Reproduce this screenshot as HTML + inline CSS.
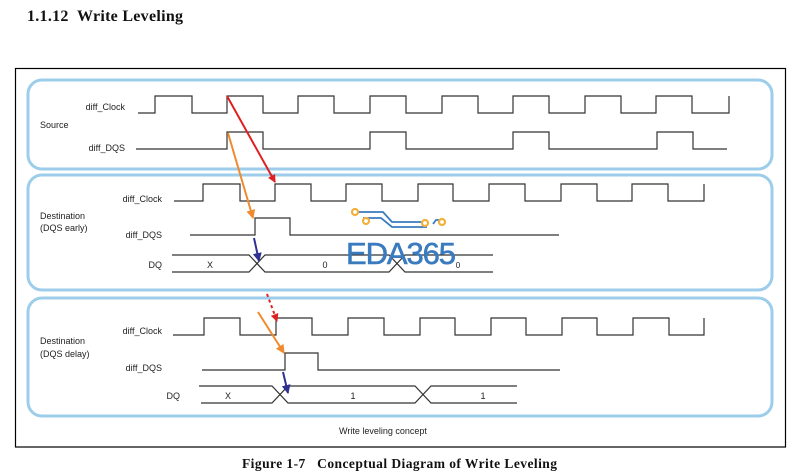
<!DOCTYPE html>
<html><head><meta charset="utf-8"><style>
html,body{margin:0;padding:0;background:#fff;}
svg{display:block;}
</style></head><body>
<svg width="807" height="472" viewBox="0 0 807 472" xmlns="http://www.w3.org/2000/svg">
<text x="27" y="21" font-family="Liberation Serif, serif" font-weight="bold" font-size="16" fill="#111" xml:space="preserve" textLength="156">1.1.12  Write Leveling</text>
<rect x="15.5" y="68.5" width="770" height="378.5" fill="none" stroke="#000" stroke-width="1.2"/>
<g fill="none" stroke="#9dcdea" stroke-width="3">
<rect x="28" y="80" width="744" height="89" rx="14"/>
<rect x="28" y="175" width="744" height="115" rx="14"/>
<rect x="28" y="298" width="744" height="118" rx="14"/>
</g>
<g font-family="Liberation Sans, sans-serif" font-size="9" fill="#222">
<text x="125" y="110" text-anchor="end">diff_Clock</text>
<text x="40" y="128">Source</text>
<text x="125" y="151" text-anchor="end">diff_DQS</text>
<text x="162" y="202" text-anchor="end">diff_Clock</text>
<text x="40" y="219">Destination</text>
<text x="40" y="231">(DQS early)</text>
<text x="162" y="238" text-anchor="end">diff_DQS</text>
<text x="162" y="268" text-anchor="end">DQ</text>
<text x="210" y="268" text-anchor="middle">X</text>
<text x="325" y="268" text-anchor="middle">0</text>
<text x="162" y="334" text-anchor="end">diff_Clock</text>
<text x="40" y="344">Destination</text>
<text x="40" y="357">(DQS delay)</text>
<text x="162" y="371" text-anchor="end">diff_DQS</text>
<text x="180" y="399" text-anchor="end">DQ</text>
<text x="228" y="399" text-anchor="middle">X</text>
<text x="353" y="399" text-anchor="middle">1</text>
<text x="483" y="399" text-anchor="middle">1</text>
<text x="383" y="434" text-anchor="middle">Write leveling concept</text>
</g>
<g fill="none" stroke="#333" stroke-width="1.2">
<path d="M138 113 H155 V96 H192 V113 H227 V96 H263 V113 H298 V96 H334 V113 H370 V96 H406 V113 H442 V96 H478 V113 H513 V96 H549 V113 H585 V96 H621 V113 H656 V96 H692 V113 H729 V96"/>
<path d="M136 149 H227 V132 H263 V149 H370 V132 H406 V149 H513 V132 H549 V149 H657 V132 H693 V149 H727"/>
<path d="M174 201 H203 V184 H240 V201 H275 V184 H311 V201 H346 V184 H382 V201 H418 V184 H453 V201 H489 V184 H525 V201 H561 V184 H597 V201 H632 V184 H668 V201 H704 V184"/>
<path d="M190 235 H255 V218 H290 V235 H559"/>
<path d="M172 255 H249 L265 272 H389 L405 255 H493"/>
<path d="M172 272 H249 L265 255 H389 L405 272 H493"/>
<path d="M173 335 H204 V318 H240 V335 H276 V318 H312 V335 H348 V318 H384 V335 H420 V318 H455 V335 H491 V318 H526 V335 H562 V318 H597 V335 H633 V318 H669 V335 H704 V318"/>
<path d="M202 370 H285 V353 H318 V370 H560"/>
<path d="M199 386 H272 L288 403 H415 L431 386 H517"/>
<path d="M201 403 H272 L288 386 H415 L431 403 H517"/>
</g>
<g fill="none" stroke="#3a7bbf" stroke-width="1.8">
<path d="M356 212 H383 L392 222 H425"/>
<path d="M363 218 H381 L392 227 H427"/>
<path d="M433 224 L436 220 H440"/>
</g>
<g fill="#fff" stroke="#f2b03c" stroke-width="2.2">
<circle cx="355" cy="212" r="3"/><circle cx="366" cy="221" r="3"/>
<circle cx="425" cy="223" r="3"/><circle cx="442" cy="222" r="3"/>
</g>
<text x="346" y="264" font-family="Liberation Sans, sans-serif" font-size="31" fill="#3a7bbf" stroke="#3a7bbf" stroke-width="0.6" textLength="110">EDA365</text>
<text x="458" y="268" font-family="Liberation Sans, sans-serif" font-size="8" fill="#222" text-anchor="middle">0</text>
<defs>
<marker id="mr" markerWidth="8" markerHeight="8" refX="7" refY="4" orient="auto" markerUnits="userSpaceOnUse"><path d="M0 0 L8 4 L0 8z" fill="#e02020"/></marker>
<marker id="mo" markerWidth="9" markerHeight="9" refX="8" refY="4.5" orient="auto" markerUnits="userSpaceOnUse"><path d="M0 0 L9 4.5 L0 9z" fill="#f08a2c"/></marker>
<marker id="mb" markerWidth="9" markerHeight="9" refX="8" refY="4.5" orient="auto" markerUnits="userSpaceOnUse"><path d="M0 0 L9 4.5 L0 9z" fill="#2e3192"/></marker>
</defs>
<g stroke-width="2" fill="none">
<line x1="227" y1="96" x2="275" y2="182" stroke="#e02020" marker-end="url(#mr)"/>
<line x1="228" y1="133" x2="253" y2="218" stroke="#f08a2c" marker-end="url(#mo)"/>
<line x1="254" y1="238" x2="259" y2="261" stroke="#2e3192" marker-end="url(#mb)"/>
<line x1="267" y1="294" x2="277" y2="321" stroke="#e02020" stroke-dasharray="3 3" marker-end="url(#mr)"/>
<line x1="258" y1="312" x2="284" y2="353" stroke="#f08a2c" marker-end="url(#mo)"/>
<line x1="283" y1="372" x2="288" y2="393" stroke="#2e3192" marker-end="url(#mb)"/>
</g>
<text x="242" y="468" font-family="Liberation Serif, serif" font-weight="bold" font-size="13.5" fill="#111" xml:space="preserve" textLength="315">Figure 1-7   Conceptual Diagram of Write Leveling</text>
</svg>
</body></html>
